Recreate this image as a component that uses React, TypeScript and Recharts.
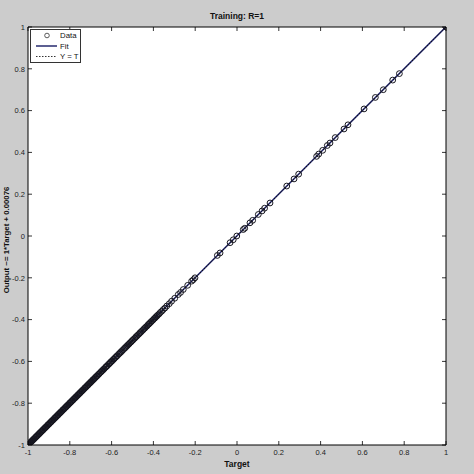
import React from 'react';
import { ComposedChart, Scatter, Line, XAxis, YAxis, CartesianGrid } from 'recharts';

const targets = [-1, -0.997, -0.995, -0.992, -0.99, -0.987, -0.985, -0.982, -0.98, -0.977, -0.975, -0.972, -0.97, -0.966, -0.963, -0.96, -0.957, -0.953, -0.95, -0.947, -0.944, -0.941, -0.938, -0.934, -0.931, -0.928, -0.925, -0.921, -0.918, -0.915, -0.912, -0.908, -0.905, -0.902, -0.899, -0.895, -0.892, -0.889, -0.886, -0.882, -0.879, -0.875, -0.872, -0.869, -0.866, -0.862, -0.859, -0.856, -0.853, -0.849, -0.846, -0.843, -0.84, -0.836, -0.833, -0.83, -0.827, -0.823, -0.82, -0.817, -0.814, -0.81, -0.807, -0.803, -0.8, -0.797, -0.794, -0.79, -0.787, -0.784, -0.781, -0.777, -0.774, -0.771, -0.768, -0.764, -0.761, -0.757, -0.754, -0.751, -0.748, -0.744, -0.741, -0.738, -0.735, -0.731, -0.728, -0.725, -0.722, -0.718, -0.715, -0.712, -0.709, -0.705, -0.702, -0.699, -0.696, -0.692, -0.689, -0.686, -0.683, -0.679, -0.676, -0.672, -0.668, -0.664, -0.66, -0.655, -0.651, -0.647, -0.643, -0.64, -0.636, -0.631, -0.627, -0.624, -0.62, -0.615, -0.611, -0.607, -0.604, -0.6, -0.596, -0.592, -0.589, -0.584, -0.58, -0.576, -0.572, -0.566, -0.561, -0.557, -0.553, -0.549, -0.543, -0.538, -0.534, -0.53, -0.525, -0.521, -0.516, -0.512, -0.507, -0.503, -0.499, -0.495, -0.489, -0.484, -0.48, -0.476, -0.47, -0.465, -0.461, -0.457, -0.451, -0.446, -0.441, -0.437, -0.431, -0.426, -0.422, -0.418, -0.413, -0.409, -0.403, -0.398, -0.393, -0.389, -0.384, -0.38, -0.373, -0.367, -0.36, -0.353, -0.345, -0.336, -0.324, -0.313, -0.298, -0.281, -0.27, -0.257, -0.236, -0.217, -0.209, -0.201, -0.094, -0.081, -0.033, -0.018, -0.001, 0.03, 0.037, 0.062, 0.075, 0.102, 0.12, 0.132, 0.158, 0.238, 0.273, 0.295, 0.381, 0.391, 0.41, 0.432, 0.445, 0.47, 0.512, 0.531, 0.608, 0.662, 0.7, 0.745, 0.777, 1];
const outputs = [-1, -0.996, -0.995, -0.991, -0.99, -0.986, -0.985, -0.981, -0.98, -0.976, -0.975, -0.971, -0.97, -0.965, -0.963, -0.959, -0.957, -0.952, -0.95, -0.946, -0.944, -0.94, -0.938, -0.933, -0.931, -0.927, -0.925, -0.92, -0.918, -0.914, -0.912, -0.907, -0.905, -0.901, -0.899, -0.894, -0.892, -0.888, -0.886, -0.881, -0.879, -0.874, -0.872, -0.868, -0.866, -0.861, -0.859, -0.855, -0.853, -0.848, -0.846, -0.842, -0.84, -0.835, -0.833, -0.829, -0.827, -0.822, -0.82, -0.816, -0.814, -0.809, -0.807, -0.802, -0.8, -0.796, -0.794, -0.789, -0.787, -0.783, -0.781, -0.776, -0.774, -0.77, -0.768, -0.763, -0.761, -0.756, -0.754, -0.75, -0.748, -0.743, -0.741, -0.737, -0.735, -0.73, -0.728, -0.724, -0.722, -0.717, -0.715, -0.711, -0.709, -0.704, -0.702, -0.698, -0.696, -0.691, -0.689, -0.685, -0.683, -0.678, -0.676, -0.671, -0.668, -0.663, -0.66, -0.654, -0.651, -0.646, -0.643, -0.639, -0.636, -0.63, -0.627, -0.623, -0.62, -0.614, -0.611, -0.606, -0.604, -0.599, -0.596, -0.591, -0.589, -0.583, -0.58, -0.575, -0.572, -0.565, -0.561, -0.556, -0.553, -0.548, -0.543, -0.537, -0.534, -0.529, -0.525, -0.52, -0.516, -0.511, -0.507, -0.502, -0.499, -0.494, -0.489, -0.483, -0.48, -0.475, -0.47, -0.464, -0.461, -0.456, -0.451, -0.445, -0.441, -0.436, -0.431, -0.425, -0.422, -0.417, -0.413, -0.408, -0.403, -0.397, -0.393, -0.388, -0.384, -0.379, -0.373, -0.366, -0.36, -0.352, -0.345, -0.335, -0.324, -0.312, -0.298, -0.28, -0.27, -0.256, -0.236, -0.216, -0.209, -0.2, -0.093, -0.081, -0.032, -0.018, 0, 0.031, 0.037, 0.063, 0.075, 0.103, 0.12, 0.133, 0.158, 0.239, 0.273, 0.296, 0.381, 0.392, 0.41, 0.433, 0.445, 0.471, 0.512, 0.532, 0.608, 0.663, 0.7, 0.746, 0.777, 1];
const fitX = [-1, 1];
const fitY = [-0.99924, 1.00076];
const identityX = [-1, 1];
const identityY = [-1, 1];
const tickValues = [-1, -0.8, -0.6, -0.4, -0.2, 0, 0.2, 0.4, 0.6, 0.8, 1];
const tickLabels = ['-1', '-0.8', '-0.6', '-0.4', '-0.2', '0', '0.2', '0.4', '0.6', '0.8', '1'];
const titleText = 'Training: R=1';
const xLabelText = 'Target';
const yLabelText = 'Output ~= 1*Target + 0.00076';
const legendItems = ['Data', 'Fit', 'Y = T'];

const scatterData = targets.map((t, i) => ({ x: t, y: outputs[i] }));
const fitData = fitX.map((x, i) => ({ x, y: fitY[i] }));
const idData = identityX.map((x, i) => ({ x, y: identityY[i] }));

const FONT = '"Liberation Sans", Arial, sans-serif';
const NAVY = '#262a6e';

const labelFor = (v: number) => {
  const i = tickValues.findIndex((t) => Math.abs(t - v) < 1e-9);
  return i >= 0 ? tickLabels[i] : String(v);
};

const BottomTick = (props: any) => {
  const { x, y, payload } = props;
  return (
    <g>
      <line x1={x} x2={x} y1={y} y2={y - 4} stroke="#000" strokeWidth={0.8} />
      <text x={x} y={y + 10} textAnchor="middle" fontSize={7.5} fontFamily={FONT} fill="#222">
        {labelFor(payload.value)}
      </text>
    </g>
  );
};
const TopTick = (props: any) => {
  const { x, y } = props;
  return <line x1={x} x2={x} y1={y} y2={y + 4} stroke="#000" strokeWidth={0.8} />;
};
const LeftTick = (props: any) => {
  const { x, y, payload } = props;
  return (
    <g>
      <line x1={x} x2={x + 4} y1={y} y2={y} stroke="#000" strokeWidth={0.8} />
      <text x={x - 3} y={y + 2.7} textAnchor="end" fontSize={7.5} fontFamily={FONT} fill="#222">
        {labelFor(payload.value)}
      </text>
    </g>
  );
};
const RightTick = (props: any) => {
  const { x, y } = props;
  return <line x1={x} x2={x - 4} y1={y} y2={y} stroke="#000" strokeWidth={0.8} />;
};

const CircleShape = (props: any) => {
  const { cx, cy } = props;
  if (cx == null || cy == null) return null;
  return <circle cx={cx} cy={cy} r={2.9} fill="none" stroke="#16161f" strokeWidth={1} />;
};

export default function App() {
  return (
    <div style={{ position: 'absolute', left: 0, top: 0, width: 474, height: 474, background: '#cccccc', overflow: 'hidden' }}>
      <ComposedChart
        width={474}
        height={474}
        margin={{ top: 26, right: 27, bottom: 28, left: 27 }}
      >
        <CartesianGrid xAxisId="b" yAxisId="l" fill="#ffffff" horizontal={false} vertical={false} stroke="none" />
        <XAxis
          xAxisId="b"
          type="number"
          dataKey="x"
          domain={[-1, 1]}
          ticks={tickValues}
          interval={0}
          orientation="bottom"
          height={1}
          tickSize={0}
          tickMargin={0}
          tick={(p: any) => <BottomTick {...p} />}
          axisLine={{ stroke: '#000', strokeWidth: 1 }}
          allowDataOverflow
        />
        <XAxis
          xAxisId="t"
          type="number"
          dataKey="x"
          domain={[-1, 1]}
          ticks={tickValues}
          interval={0}
          orientation="top"
          height={1}
          tickSize={0}
          tickMargin={0}
          tick={(p: any) => <TopTick {...p} />}
          axisLine={{ stroke: '#000', strokeWidth: 1 }}
          allowDataOverflow
        />
        <YAxis
          yAxisId="l"
          type="number"
          dataKey="y"
          domain={[-1, 1]}
          ticks={tickValues}
          interval={0}
          orientation="left"
          width={1}
          tickSize={0}
          tickMargin={0}
          tick={(p: any) => <LeftTick {...p} />}
          axisLine={{ stroke: '#000', strokeWidth: 1 }}
          allowDataOverflow
        />
        <YAxis
          yAxisId="r"
          type="number"
          dataKey="y"
          domain={[-1, 1]}
          ticks={tickValues}
          interval={0}
          orientation="right"
          width={1}
          tickSize={0}
          tickMargin={0}
          tick={(p: any) => <RightTick {...p} />}
          axisLine={{ stroke: '#000', strokeWidth: 1 }}
          allowDataOverflow
        />
        <Scatter
          xAxisId="b"
          yAxisId="l"
          data={scatterData}
          dataKey="y"
          shape={<CircleShape />}
          isAnimationActive={false}
        />
        <Line
          xAxisId="b"
          yAxisId="l"
          data={fitData}
          dataKey="y"
          type="linear"
          stroke={NAVY}
          strokeWidth={1.5}
          dot={false}
          activeDot={false}
          isAnimationActive={false}
        />
        <Line
          xAxisId="b"
          yAxisId="l"
          data={idData}
          dataKey="y"
          type="linear"
          stroke="#000"
          strokeWidth={0.8}
          strokeDasharray="1.5 1.5"
          dot={false}
          activeDot={false}
          isAnimationActive={false}
        />
      </ComposedChart>

      <div style={{ position: 'absolute', left: 0, top: 11, width: 474, textAlign: 'center', fontFamily: FONT, fontWeight: 'bold', fontSize: 8.5, color: '#111' }}>
        {titleText}
      </div>
      <div style={{ position: 'absolute', left: 0, top: 459, width: 474, textAlign: 'center', fontFamily: FONT, fontWeight: 'bold', fontSize: 8.5, color: '#111' }}>
        {xLabelText}
      </div>
      <div
        style={{
          position: 'absolute',
          left: 7 - 200,
          top: 240 - 6,
          width: 400,
          height: 12,
          lineHeight: '12px',
          textAlign: 'center',
          fontFamily: FONT,
          fontWeight: 'bold',
          fontSize: 7.8,
          color: '#111',
          transform: 'rotate(-90deg)',
        }}
      >
        {yLabelText}
      </div>

      <div style={{ position: 'absolute', left: 30, top: 29, width: 51, height: 34, background: '#fff', border: '1px solid #333', boxSizing: 'border-box' }}>
        <svg width={51} height={34} style={{ position: 'absolute', left: -1, top: -1 }}>
          <circle cx={17} cy={6.5} r={2.3} fill="none" stroke="#333" strokeWidth={0.8} />
          <line x1={6} x2={27} y1={17} y2={17} stroke={NAVY} strokeWidth={1.5} />
          <line x1={6} x2={27} y1={27.5} y2={27.5} stroke="#000" strokeWidth={0.8} strokeDasharray="1.5 1.5" />
          <text x={30} y={9} fontSize={7.8} fontFamily={FONT} fill="#111">{legendItems[0]}</text>
          <text x={30} y={19.5} fontSize={7.8} fontFamily={FONT} fill="#111">{legendItems[1]}</text>
          <text x={30} y={30} fontSize={7.8} fontFamily={FONT} fill="#111">{legendItems[2]}</text>
        </svg>
      </div>
    </div>
  );
}
